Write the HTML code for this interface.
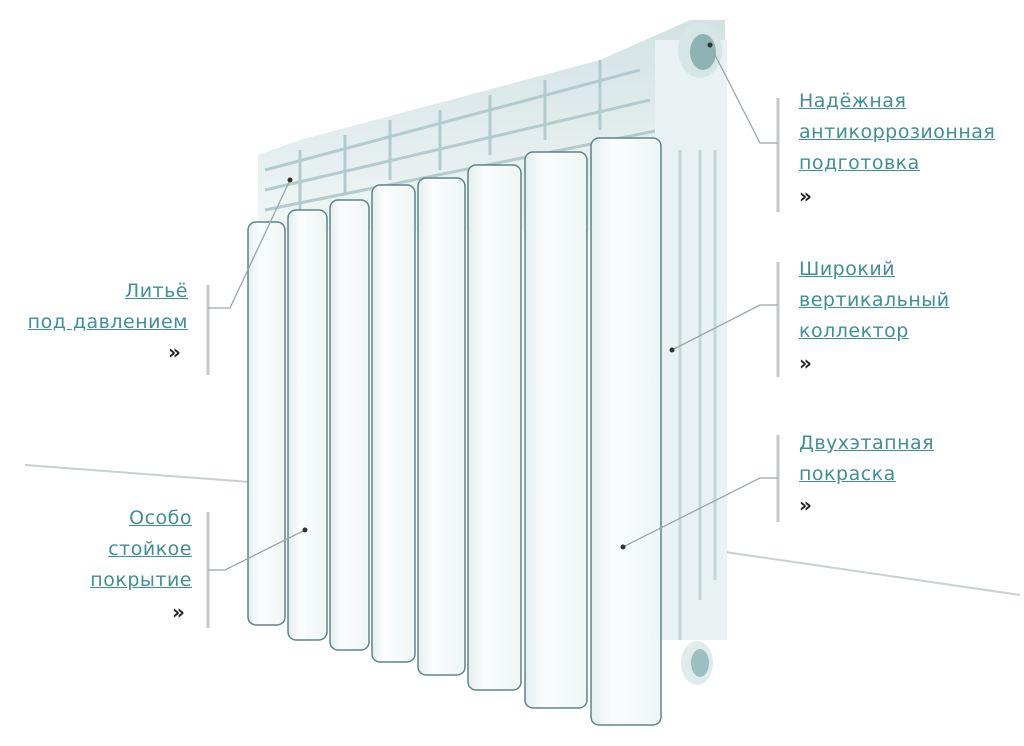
<!DOCTYPE html>
<html><head><meta charset="utf-8"><style>
body{margin:0;background:#fff;width:1024px;height:746px;overflow:hidden;font-family:"DejaVu Sans","Liberation Sans",sans-serif}
svg{position:absolute;left:0;top:0}
.l{position:absolute;color:#3f8f96;font-size:19px;letter-spacing:0.5px;line-height:31px;text-decoration:underline}
.c{position:absolute;font-weight:bold;font-size:20px;color:#222}
</style></head><body>
<svg width="1024" height="746">
<defs>
<linearGradient id="p" x1="0" x2="1"><stop offset="0" stop-color="#e3eeef"/><stop offset=".3" stop-color="#fbfdfd"/><stop offset="1" stop-color="#eef5f5"/></linearGradient>
<linearGradient id="t" x1="0" x2="0" y1="0" y2="1"><stop offset="0" stop-color="#d2e2e3"/><stop offset="1" stop-color="#f0f6f6"/></linearGradient>
</defs>
<line x1="25" y1="465" x2="250" y2="482" stroke="#c8d0d0" stroke-width="2"/>
<line x1="725" y1="552" x2="1020" y2="595" stroke="#c8d0d0" stroke-width="2"/>
<polygon points="258,155 300,140 600,60 690,20 725,20 725,230 258,230" fill="url(#t)"/>
<g stroke="#b3cbcd" stroke-width="3" fill="none">
<path d="M265,170 L640,70"/><path d="M265,190 L650,100"/><path d="M265,210 L660,130"/>
<path d="M300,150 v60"/><path d="M345,135 v60"/><path d="M390,120 v60"/><path d="M440,110 v60"/><path d="M490,95 v60"/><path d="M545,80 v60"/><path d="M600,60 v70"/>
</g>
<rect x="655" y="40" width="72" height="600" fill="#e9f2f2"/>
<g stroke="#c2d6d7" stroke-width="3"><line x1="680" y1="150" x2="680" y2="640"/><line x1="700" y1="150" x2="700" y2="600"/><line x1="715" y1="150" x2="715" y2="580"/></g>
<ellipse cx="700" cy="50" rx="22" ry="28" fill="#d6e6e7"/><ellipse cx="703" cy="52" rx="13" ry="18" fill="#8fb3b5"/>
<ellipse cx="697" cy="663" rx="16" ry="22" fill="#e0ecec"/><ellipse cx="700" cy="663" rx="9" ry="14" fill="#9dbfc1"/>
<g fill="url(#p)" stroke="#5c8587" stroke-width="1.5">
<rect x="248" y="222" width="37" height="403" rx="8"/>
<rect x="288" y="210" width="39" height="430" rx="8"/>
<rect x="330" y="200" width="39" height="450" rx="8"/>
<rect x="372" y="185" width="43" height="477" rx="8"/>
<rect x="418" y="178" width="47" height="497" rx="8"/>
<rect x="468" y="165" width="53" height="525" rx="8"/>
<rect x="525" y="152" width="62" height="556" rx="8"/>
<rect x="591" y="138" width="70" height="587" rx="8"/>
</g>
<g stroke="#c4c8c8" stroke-width="3"><line x1="778" y1="98" x2="778" y2="212"/><line x1="208" y1="285" x2="208" y2="375"/><line x1="778" y1="262" x2="778" y2="377"/><line x1="778" y1="435" x2="778" y2="522"/><line x1="208" y1="512" x2="208" y2="628"/></g>
<g stroke="#9aa7a7" stroke-width="1.3" fill="none">
<polyline points="710,45 760,143 778,143"/>
<polyline points="290,180 230,308 208,308"/>
<polyline points="672,350 760,305 778,305"/>
<polyline points="623,547 760,478 778,478"/>
<polyline points="305,530 225,570 208,570"/>
</g>
<g fill="#333"><circle cx="710" cy="45" r="2.5"/><circle cx="290" cy="180" r="2.5"/><circle cx="672" cy="350" r="2.5"/><circle cx="623" cy="547" r="2.5"/><circle cx="305" cy="530" r="2.5"/></g>
</svg>
<div class="l" style="left:799px;top:86px">Надёжная<br>антикоррозионная<br>подготовка</div>
<div class="c" style="left:799px;top:184px">»</div>
<div class="l" style="left:799px;top:254px">Широкий<br>вертикальный<br>коллектор</div>
<div class="c" style="left:799px;top:351px">»</div>
<div class="l" style="left:0px;width:188px;text-align:right;top:276px">Литьё<br>под давлением</div>
<div class="c" style="left:168px;top:340px">»</div>
<div class="l" style="left:799px;top:428px">Двухэтапная<br>покраска</div>
<div class="c" style="left:799px;top:493px">»</div>
<div class="l" style="left:0px;width:192px;text-align:right;top:503px">Особо<br>стойкое<br>покрытие</div>
<div class="c" style="left:172px;top:600px">»</div>
</body></html>
